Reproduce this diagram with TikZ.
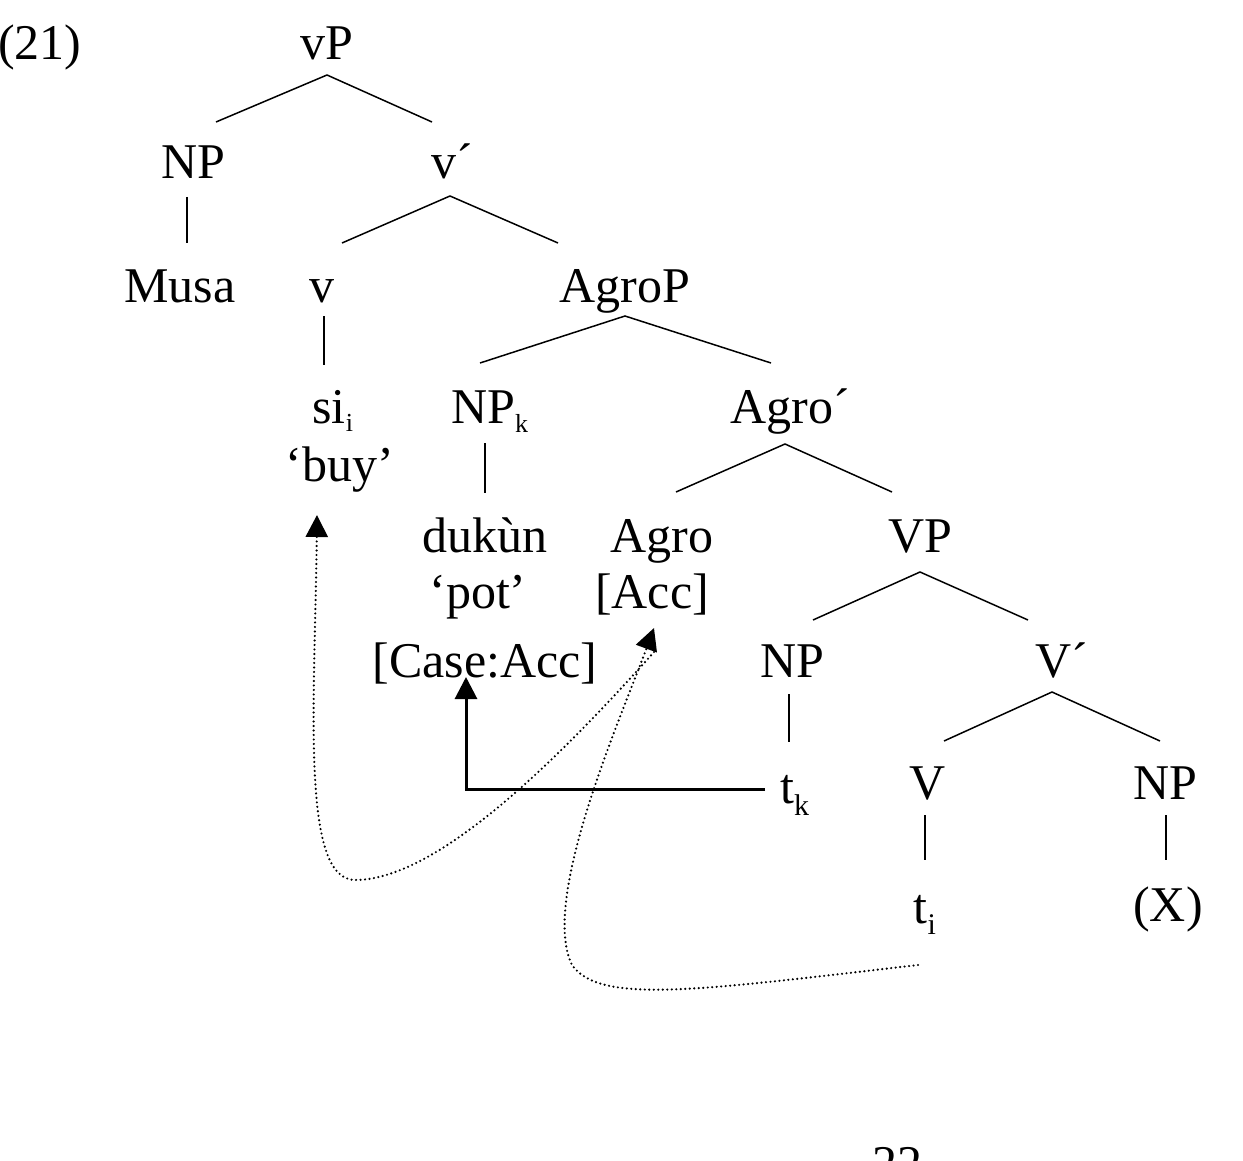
\documentclass[tikz,border=0pt]{standalone}
\usepackage{fontspec}
\setmainfont{Liberation Serif}
\usetikzlibrary{arrows.meta}
\begin{document}
\begin{tikzpicture}[x=1pt,y=-1pt,
  lab/.style={font=\fontsize{50}{54}\selectfont,inner sep=0pt,anchor=base},
  br/.style={line width=1.5pt},
  dt/.style={line width=2.4pt,line cap=round,dash pattern=on 0pt off 4.5pt},
  tip/.style={-{Triangle[length=22pt,width=22pt]}}]
\useasboundingbox (0,0) rectangle (1243,1161);
\node[lab] (ex) at (40,60) {(21)};
\node[lab] (vP) at (327,60) {vP};
\node[lab] (NP1) at (193,179) {NP};
\node[lab] (vbar) at (452,179) {v\textasciiacute};
\node[lab] (Musa) at (180,302) {Musa};
\node[lab] (v) at (322,302) {v};
\node[lab] (AgroP) at (625,302) {AgroP};
\node[lab] (si) at (333,423) {si\textsubscript{\fontsize{26}{26}\selectfont i}};
\node[lab] (buy) at (340,481) {‘buy’};
\node[lab] (NPk) at (490,423) {NP\textsubscript{\fontsize{26}{26}\selectfont k}};
\node[lab] (Agrobar) at (790,423) {Agro\textasciiacute};
\node[lab] (dukun) at (485,552) {dukùn};
\node[lab] (pot) at (478,608) {‘pot’};
\node[lab] (Agro) at (662,552) {Agro};
\node[lab] (Acc) at (652,608) {[Acc]};
\node[lab] (VP) at (920,552) {VP};
\node[lab] (Case) at (485,677) {[Case:Acc]};
\node[lab] (NP2) at (792,677) {NP};
\node[lab] (Vbar) at (1062,677) {V\textasciiacute};
\node[lab] (tk) at (795,803) {t\textsubscript{\fontsize{30}{30}\selectfont k}};
\node[lab] (V) at (928,799) {V};
\node[lab] (NP3) at (1165,799) {NP};
\node[lab] (ti) at (925,923) {t\textsubscript{\fontsize{30}{30}\selectfont i}};
\node[lab] (X) at (1168,921) {(X)};
\node[lab] (pg) at (897,1180) {22};
\draw[br] (216,122) -- (327,75) -- (432,122);
\draw[br] (342,243) -- (450,196) -- (558,243);
\draw[br] (187,197) -- (187,243);
\draw[br] (324,316) -- (324,365);
\draw[br] (480,363) -- (625,316) -- (771,363);
\draw[br] (485,443) -- (485,493);
\draw[br] (676,492) -- (785,444) -- (892,492);
\draw[br] (813,620) -- (920,572) -- (1028,620);
\draw[br] (789,694) -- (789,742);
\draw[br] (944,741) -- (1052,692) -- (1160,741);
\draw[br] (925,815) -- (925,860);
\draw[br] (1166,815) -- (1166,860);
\coordinate (tkl) at (765,789);
\draw[line width=3pt,tip] (tkl) -- (466,789) -- (466,677);
\coordinate (s1) at (654,652);
\draw[dt,tip] (s1) .. controls (540,780) and (430,880) .. (355,880) .. controls (300,880) and (315,700) .. (317,515);
\coordinate (s2) at (918,965);
\draw[dt,tip] (s2) .. controls (700,990) and (600,1005) .. (572,965) .. controls (540,900) and (620,720) .. (654,628);
\end{tikzpicture}
\end{document}
